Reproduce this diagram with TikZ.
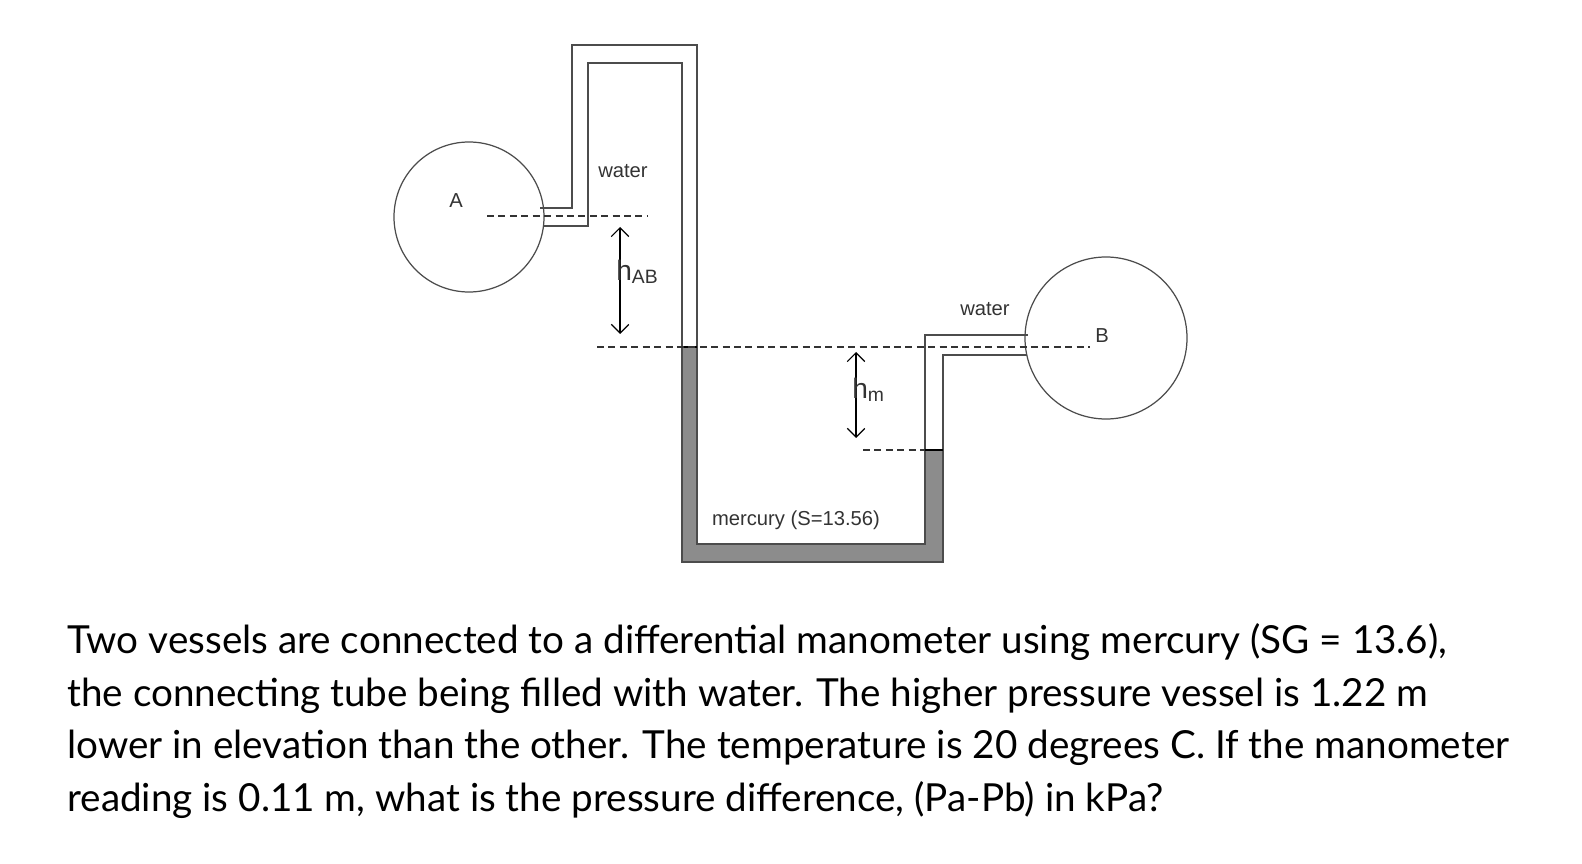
\documentclass[tikz,border=0pt]{standalone}
\usepackage{fontspec}
\setmainfont{Lato}
\newfontfamily\arialf{Liberation Sans}
\usetikzlibrary{arrows.meta}
\begin{document}
\begin{tikzpicture}[x=0.02cm,y=-0.02cm,
  wall/.style={line width=0.7pt,draw=black!70},
  dline/.style={dash pattern=on 4pt off 2.5pt,line width=0.7pt,draw=black!80},
  dim/.style={{Straight Barb[length=5pt]}-{Straight Barb[length=5pt]},line width=0.7pt},
  lab/.style={font=\arialf\fontsize{11.5}{13}\selectfont,text=black!80,inner sep=0pt},
  para/.style={font=\fontsize{22}{30}\selectfont,align=left,anchor=north west,inner sep=0pt}]
\useasboundingbox (0,0) rectangle (1582,864);
% mercury fill
\fill[black!45] (682,347) -- (682,562) -- (943,562) -- (943,450) -- (925,450) -- (925,544) -- (697,544) -- (697,347) -- cycle;
% vessels
\node[circle,draw=black!70,line width=0.7pt,minimum size=150*0.02cm,inner sep=0pt] (A) at (469,217) {};
\node[circle,draw=black!70,line width=0.7pt,minimum size=162*0.02cm,inner sep=0pt] (B) at (1106,338) {};
% tubes
\draw[wall] (540,208) -- (572,208) -- (572,45) -- (697,45) -- (697,544) -- (925,544) -- (925,335) -- (1028,335);
\draw[wall] (543,226) -- (588,226) -- (588,63) -- (682,63) -- (682,562) -- (943,562) -- (943,355) -- (1027,355);
% mercury surfaces
\draw[line width=0.9pt] (682,347) -- (697,347);
\draw[line width=0.9pt] (925,450) -- (943,450);
% dashed levels
\coordinate (a1) at (487,216); \coordinate (a2) at (648,216);
\coordinate (b1) at (597,347); \coordinate (b2) at (1090,347);
\coordinate (c1) at (863,450); \coordinate (c2) at (925,450);
\draw[dline] (a1) -- (a2);
\draw[dline] (b1) -- (b2);
\draw[dline] (c1) -- (c2);
% dimensions
\coordinate (h1) at (620,227); \coordinate (h2) at (620,334);
\coordinate (m1) at (856,352); \coordinate (m2) at (856,438);
\draw[dim] (h1) -- (h2);
\draw[dim] (m1) -- (m2);
\node[lab,anchor=west] (hab) at (616,272) {\fontsize{16}{16}\selectfont h\raisebox{-2pt}{\fontsize{11}{12}\selectfont AB}};
\node[lab,anchor=west] (hm) at (852,390) {\fontsize{16}{16}\selectfont h\raisebox{-2pt}{\fontsize{11}{12}\selectfont m}};
% labels
\node[lab] (la) at (456,201) {A};
\node[lab] (lb) at (1102,336) {B};
\node[lab] (w1) at (623,171) {water};
\node[lab] (w2) at (985,309) {water};
\node[lab] (hg) at (796,520) {mercury (S=13.56)};
% paragraph
\node[para] (t) at (67,623) {Two vessels are connected to a differential manometer using mercury (SG = 13.6),\\
the connecting tube being filled with water. The higher pressure vessel is 1.22 m\\
lower in elevation than the other. The temperature is 20 degrees C. If the manometer\\
reading is 0.11 m, what is the pressure difference, (Pa-Pb) in kPa?};
\end{tikzpicture}
\end{document}
